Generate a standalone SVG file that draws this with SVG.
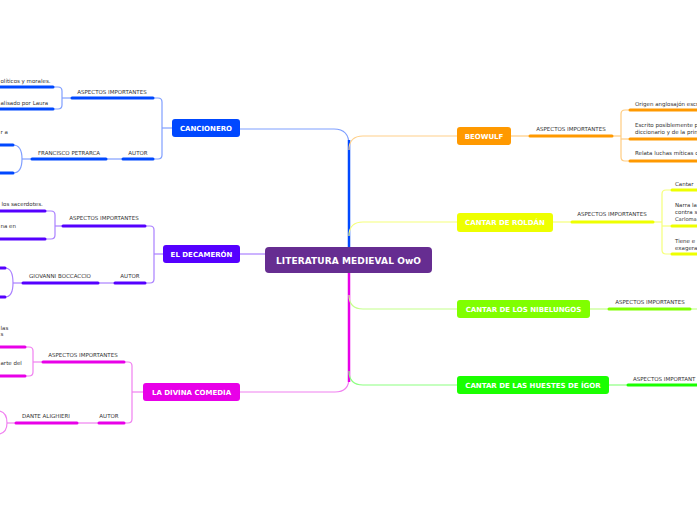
<svg xmlns="http://www.w3.org/2000/svg" width="697" height="520" viewBox="0 0 697 520">
<style>
.node text{font-family:"DejaVu Sans",Verdana,sans-serif;font-weight:bold;fill:#fff;text-anchor:middle}
.t7{font-size:7px}
.sub{font-family:"DejaVu Sans",Verdana,sans-serif;font-size:5.5px;fill:#333}
.mid{text-anchor:middle}
.end{text-anchor:end}
.ln{fill:none;stroke-width:1.2}
.ul{fill:none;stroke-width:3;stroke-linecap:round}
</style>
<rect width="697" height="520" fill="#fff"/>
<g id="connectors">
  <path d="M349,145 Q349,129 334,129 H240" class="ln" stroke="#7f9fff" stroke-width="1.5"/>
  <path d="M349,250 V140" fill="none" stroke="#0048ff" stroke-width="2.5"/>
  <path d="M265,254 H240" class="ln" stroke="#aa80ff" stroke-width="1.5"/>
  <path d="M349,378 Q349,392 335,392 H240" class="ln" stroke="#f080f0" stroke-width="1.5"/>
  <path d="M349,272 V382" fill="none" stroke="#e800e8" stroke-width="2.5"/>
  <path d="M349,150 Q349,136 363,136 H457" class="ln" stroke="#ffd08a" stroke-width="1.5"/>
  <path d="M349,236 Q349,222 363,222 H457" class="ln" stroke="#f6ff7a" stroke-width="1.5"/>
  <path d="M349,295 Q349,309 363,309 H457" class="ln" stroke="#c4ff8a" stroke-width="1.5"/>
  <path d="M349,371 Q349,385 363,385 H457" class="ln" stroke="#8cff80" stroke-width="1.5"/>

  <g stroke="#809fff">
    <path class="ln" d="M172,128 H162"/>
    <path class="ln" d="M153,98 H158 Q162,98 162,102 V155 Q162,159 158,159 H153"/>
    <path class="ln" d="M123,159 H106"/>
    <path class="ln" d="M72,98 H62"/>
    <path class="ln" d="M53,87 H58 Q62,87 62,91 V105 Q62,109 58,109 H53"/>
    <path class="ln" d="M32,159 H22"/>
    <path class="ln" d="M13,145 C20,145 22,152 22,159 C22,166 20,173 13,173"/>
  </g>
  <g stroke="#0048ff">
    <path class="ul" d="M72,98 H153"/>
    <path class="ul" d="M123,159 H153"/>
    <path class="ul" d="M32,159 H106"/>
    <path class="ul" d="M-5,87 H53"/>
    <path class="ul" d="M-5,109 H53"/>
    <path class="ul" d="M-5,145 H13"/>
    <path class="ul" d="M-5,173 H13"/>
  </g>

  <g stroke="#aa80ff">
    <path class="ln" d="M163,254 H154"/>
    <path class="ln" d="M145,226 H150 Q154,226 154,230 V279 Q154,283 150,283 H145"/>
    <path class="ln" d="M115,283 H98"/>
    <path class="ln" d="M63,226 H55"/>
    <path class="ln" d="M45,211 H51 Q55,211 55,215 V235 Q55,239 51,239 H45"/>
    <path class="ln" d="M23,283 H13"/>
    <path class="ln" d="M5,268 C11,268 13,275 13,283 C13,290 11,297 5,297"/>
  </g>
  <g stroke="#5500ff">
    <path class="ul" d="M63,226 H145"/>
    <path class="ul" d="M115,283 H145"/>
    <path class="ul" d="M23,283 H98"/>
    <path class="ul" d="M-5,211 H45"/>
    <path class="ul" d="M-5,239 H45"/>
    <path class="ul" d="M-5,268 H5"/>
    <path class="ul" d="M-5,297 H5"/>
  </g>

  <g stroke="#f080f0">
    <path class="ln" d="M143,392 H132"/>
    <path class="ln" d="M124,362 H128 Q132,362 132,366 V419 Q132,423 128,423 H124"/>
    <path class="ln" d="M99,423 H77"/>
    <path class="ln" d="M43,362 H33"/>
    <path class="ln" d="M25,347 H29 Q33,347 33,351 V372 Q33,376 29,376 H25"/>
    <path class="ln" d="M16,423 H7"/>
    <path class="ln" d="M-1,411 C5,412 7,417 7,423 C7,429 5,433 -1,434"/>
  </g>
  <g stroke="#e800e8">
    <path class="ul" d="M43,362 H124"/>
    <path class="ul" d="M99,423 H124"/>
    <path class="ul" d="M16,423 H77"/>
    <path class="ul" d="M-5,347 H25"/>
    <path class="ul" d="M-5,376 H25"/>
  </g>

  <g stroke="#ffcc80">
    <path class="ln" d="M511,136 H530"/>
    <path class="ln" d="M612,136 H621"/>
    <path class="ln" d="M629,110 H625 Q621,110 621,114 V157 Q621,161 625,161 H629"/>
    <path class="ln" d="M621,139 H629"/>
  </g>
  <g stroke="#ff9900">
    <path class="ul" d="M530,136 H612"/>
    <path class="ul" d="M630,110 H702"/>
    <path class="ul" d="M630,139 H702"/>
    <path class="ul" d="M630,161 H702"/>
  </g>

  <g stroke="#f6ff7a">
    <path class="ln" d="M553,222 H572"/>
    <path class="ln" d="M653,222 H662"/>
    <path class="ln" d="M671,190 H666 Q662,190 662,194 V250 Q662,254 666,254 H671"/>
    <path class="ln" d="M662,226 H671"/>
  </g>
  <g stroke="#eeff00">
    <path class="ul" d="M572,222 H653"/>
    <path class="ul" d="M672,190 H702"/>
    <path class="ul" d="M672,226 H702"/>
    <path class="ul" d="M672,254 H702"/>
  </g>

  <path class="ln" stroke="#c4ff8a" d="M590,309 H609"/>
  <path class="ln" stroke="#c4ff8a" d="M690,309 H700"/>
  <path class="ul" stroke="#80ff00" d="M609,309 H690"/>

  <path class="ln" stroke="#8cff80" d="M609,385 H628"/>
  <path class="ul" stroke="#1aff00" d="M628,385 H702"/>
</g>

<g id="center" class="node">
  <rect x="265" y="247" width="167" height="26" rx="4" fill="#662d91"/>
  <text x="348.5" y="263.5" font-size="9" letter-spacing="0.1">LITERATURA MEDIEVAL OwO</text>
</g>
<g id="cancionero" class="node">
  <rect x="172" y="119" width="68" height="18" rx="3" fill="#0048ff"/>
  <text x="206" y="130.5" class="t7">CANCIONERO</text>
</g>
<g id="decameron" class="node">
  <rect x="163" y="245" width="77" height="18" rx="3" fill="#5500ff"/>
  <text x="201.5" y="256.5" class="t7">EL DECAMERÓN</text>
</g>
<g id="divina" class="node">
  <rect x="143" y="383" width="97" height="18" rx="3" fill="#e800e8"/>
  <text x="191.5" y="394.5" class="t7">LA DIVINA COMEDIA</text>
</g>
<g id="beowulf" class="node">
  <rect x="457" y="127" width="54" height="18" rx="3" fill="#ff9900"/>
  <text x="484" y="138.5" class="t7">BEOWULF</text>
</g>
<g id="roldan" class="node">
  <rect x="457" y="213" width="96" height="19" rx="3" fill="#eeff00"/>
  <text x="505" y="225" class="t7">CANTAR DE ROLDÁN</text>
</g>
<g id="nibelungos" class="node">
  <rect x="457" y="300" width="133" height="18" rx="3" fill="#80ff00"/>
  <text x="523.5" y="311.5" class="t7">CANTAR DE LOS NIBELUNGOS</text>
</g>
<g id="igor" class="node">
  <rect x="457" y="376" width="152" height="18" rx="3" fill="#1aff00"/>
  <text x="533" y="387.5" class="t7">CANTAR DE LAS HUESTES DE ÍGOR</text>
</g>

<g id="labels-cancionero" class="sub">
  <text x="112" y="94" class="mid">ASPECTOS IMPORTANTES</text>
  <text x="138" y="155" class="mid">AUTOR</text>
  <text x="69" y="155" class="mid">FRANCISCO PETRARCA</text>
  <text x="0.5" y="83">olíticos y morales.</text>
  <text x="0.5" y="105">alisado por Laura</text>
  <text x="0.5" y="134">r a</text>
</g>
<g id="labels-decameron" class="sub">
  <text x="104" y="220" class="mid">ASPECTOS IMPORTANTES</text>
  <text x="130" y="278" class="mid">AUTOR</text>
  <text x="60" y="278" class="mid">GIOVANNI BOCCACCIO</text>
  <text x="1.5" y="206">los sacerdotes.</text>
  <text x="0.5" y="228">na en</text>
</g>
<g id="labels-divina" class="sub">
  <text x="83" y="357" class="mid">ASPECTOS IMPORTANTES</text>
  <text x="109" y="418" class="mid">AUTOR</text>
  <text x="46" y="418" class="mid">DANTE ALIGHIERI</text>
  <text x="0.5" y="330">las</text>
  <text x="0.5" y="336">s</text>
  <text x="0.5" y="365">arte del</text>
</g>
<g id="labels-beowulf" class="sub">
  <text x="571" y="131" class="mid">ASPECTOS IMPORTANTES</text>
  <text x="635" y="106">Origen anglosajón escr</text>
  <text x="635" y="127">Escrito posiblemente p</text>
  <text x="635" y="134">diccionario y de la prin</text>
  <text x="635" y="155">Relata luchas míticas c</text>
</g>
<g id="labels-roldan" class="sub">
  <text x="612" y="216" class="mid">ASPECTOS IMPORTANTES</text>
  <text x="675" y="186">Cantar</text>
  <text x="675" y="207">Narra la</text>
  <text x="675" y="214">contra s</text>
  <text x="675" y="221" font-size="5.2">Carloma</text>
  <text x="675" y="243">Tiene e</text>
  <text x="675" y="250">exagera</text>
</g>
<g id="labels-nibelungos" class="sub">
  <text x="650" y="304" class="mid">ASPECTOS IMPORTANTES</text>
</g>
<g id="labels-igor" class="sub">
  <text x="633" y="381">ASPECTOS IMPORTANT</text>
</g>
</svg>
